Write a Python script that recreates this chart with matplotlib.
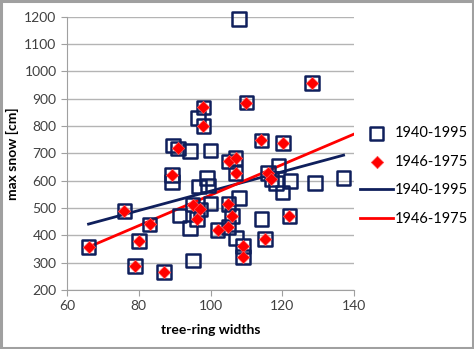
import matplotlib.pyplot as plt
from matplotlib.patches import Rectangle

plt.rcParams['font.family'] = ['Lato', 'DejaVu Sans']

# 1940-1995: every year (squares)
x_all = [108, 128.3, 110, 98, 96.5, 98, 89.5, 91, 94.3, 100, 114.2, 120.2,
         105.2, 107, 107, 89.3, 89.3, 99, 96.8, 99.3, 95, 97.2, 96.2, 100,
         91.3, 94.3, 105, 106, 105, 102, 108, 107.1, 109, 109, 95.1, 114.2,
         115.2, 122, 118.9, 116, 117, 118.3, 120.1, 122.3, 129.1, 137.1,
         66, 76, 80, 79, 83, 87]
y_all = [1190, 957, 885, 868, 828, 800, 729, 718, 709, 710, 747, 737,
         670, 682, 627, 620, 595, 609, 578, 582, 512, 495, 459, 517,
         472, 426, 514, 470, 430, 419, 536, 390, 360, 320, 307, 459,
         386, 470, 656, 628, 605, 591, 556, 598, 591, 609,
         357, 488, 379, 288, 440, 266]

# 1946-1975 (diamonds)
x_sub = [66, 76, 80, 79, 83, 87, 89.3, 91, 98, 98, 95, 97.2, 96.2, 102, 105,
         106, 105, 105.2, 107, 110, 109, 109, 114.2, 120.2, 128.3, 116, 117,
         122, 115.2, 107]
y_sub = [357, 488, 379, 288, 440, 266, 620, 718, 868, 800, 512, 495, 459, 419,
         430, 470, 514, 670, 682, 885, 360, 320, 747, 737, 957, 628, 605,
         470, 386, 627]

# trend lines
trend_blue_x = [66, 137.1]
trend_blue_y = [441, 693]
trend_red_x = [66, 140]
trend_red_y = [357, 770]

navy = '#0f1f5c'
red = '#ff0000'

fig = plt.figure(figsize=(4.74, 3.49), dpi=100)
fig.patches.append(Rectangle((0.002, 0.003), 0.995, 0.993, transform=fig.transFigure,
                             fill=False, edgecolor='#a0a0a0', linewidth=2.2))
ax = fig.add_axes([0.1414, 0.1691, 0.6054, 0.7836])

ax.scatter(x_all, y_all, marker='s', s=95, facecolors='none', edgecolors=navy,
           linewidths=1.8, label='1940-1995', zorder=3, clip_on=False)
ax.scatter(x_sub, y_sub, marker='D', s=40, color=red, edgecolors='#ff5050',
           linewidths=0.5, label='1946-1975', zorder=4, clip_on=False)
ax.plot(trend_blue_x, trend_blue_y, color=navy, lw=2, label='1940-1995', zorder=2)
ax.plot(trend_red_x, trend_red_y, color=red, lw=2, label='1946-1975', zorder=2)

ax.set_xlim(60, 140)
ax.set_ylim(200, 1200)
ax.set_xticks(range(60, 141, 20))
ax.set_yticks(range(200, 1201, 100))
ax.yaxis.grid(True, color='#b4b4b4', lw=1)
ax.set_axisbelow(True)
for s in ['top', 'right']:
    ax.spines[s].set_visible(False)
for s in ['left', 'bottom']:
    ax.spines[s].set_color('#a0a0a0')
ax.tick_params(colors='#a0a0a0', labelcolor='#404040', labelsize=10, length=4)
ax.set_xlabel('tree-ring widths', fontsize=10, fontweight='bold', labelpad=8)
ax.set_ylabel('max snow [cm]', fontsize=10, fontweight='bold', labelpad=4)

ax.legend(loc='upper left', bbox_to_anchor=(1.0, 0.62), frameon=False,
          fontsize=10.5, handlelength=2.3, labelspacing=1.0, handletextpad=0.1,
          borderaxespad=0)

fig.savefig('out.png', dpi=100)
